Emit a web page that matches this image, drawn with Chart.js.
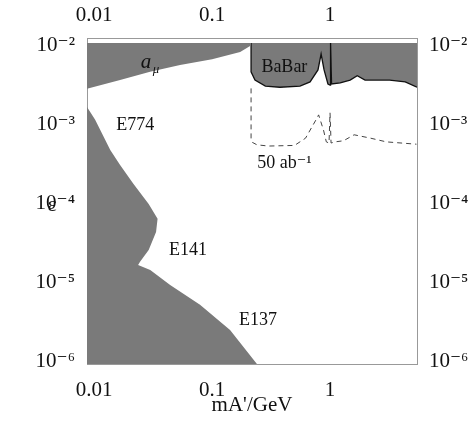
<!DOCTYPE html>
<html><head><meta charset="utf-8">
<script src="https://cdn.jsdelivr.net/npm/chart.js@4"></script>
<style>html,body{margin:0;background:#fff}#w{width:474px;height:437px}</style>
</head><body><div id="w"><canvas id="c"></canvas></div>
<script>
const xTicks=[0.01,0.1,1];
const yTicks=[1e-6,1e-5,1e-4,1e-3,1e-2];
const yTickLabels=['10⁻⁶','10⁻⁵','10⁻⁴','10⁻³','10⁻²'];
const amuTop=[[0.0087,1.09e-2],[0.214,1.09e-2]];
const amuLow=[[0.0087,2.86e-3],[0.0166,3.7e-3],[0.0298,4.7e-3],[0.0535,5.75e-3],[0.1,6.8e-3],[0.173,8.4e-3],[0.21,1.0e-2],[0.214,1.09e-2]];
const babarTop=[[0.214,1.09e-2],[5.46,1.09e-2]];
const babarLow=[[0.214,1.09e-2],[0.214,4.7e-3],[0.231,3.7e-3],[0.283,3.1e-3],[0.376,3.0e-3],[0.556,3.1e-3],[0.677,3.5e-3],[0.79,4.97e-3],[0.84,7.9e-3],[0.89,4.97e-3],[0.96,3.3e-3],[1.0,3.2e-3],[1.01,1.09e-2],[1.03,3.3e-3],[1.22,3.4e-3],[1.48,3.7e-3],[1.70,4.2e-3],[1.98,3.7e-3],[3.2,3.7e-3],[4.34,3.5e-3],[5.46,3.0e-3]];
const future=[[0.214,2.9e-3],[0.214,6.5e-4],[0.22,6.0e-4],[0.24,5.6e-4],[0.30,5.4e-4],[0.50,5.5e-4],[0.62,6.8e-4],[0.76,1.16e-3],[0.80,1.34e-3],[0.88,8.6e-4],[0.93,6.1e-4],[0.98,5.9e-4],[1.0,1.42e-3],[1.02,5.9e-4],[1.1,6.1e-4],[1.3,6.3e-4],[1.6,7.5e-4],[2.2,6.8e-4],[3.0,6.1e-4],[5.4,5.7e-4]];
const beamDump=[[0.0087,1.69e-3],[0.0102,1.16e-3],[0.0137,4.8e-4],[0.0166,3.1e-4],[0.0215,1.8e-4],[0.0290,1.0e-4],[0.0345,6.5e-5],[0.0335,4.4e-5],[0.029,2.6e-5],[0.0245,1.85e-5],[0.0236,1.69e-5],[0.0299,1.46e-5],[0.0441,9.4e-6],[0.079,5.3e-6],[0.142,2.54e-6],[0.240,9.4e-7]];
const labels=[['a','μ',0.0298,6.1e-3,true],['BaBar','',0.41,5.4e-3,false],['E774','',0.0223,1.0e-3,false],['E141','',0.0626,2.6e-5,false],['E137','',0.245,3.4e-6,false],['50 ab','⁻¹',0.41,3.3e-4,false]];
const pts=a=>a.map(p=>({x:p[0],y:p[1]}));
const G='#7a7a7a';
const base={showLine:true,pointRadius:0,tension:0};
const serif='"Liberation Serif","DejaVu Serif",serif';
const textPlugin={id:'t',afterDatasetsDraw(ch){const c=ch.ctx,xs=ch.scales.x,ys=ch.scales.y;c.save();c.fillStyle='#111';c.textAlign='center';c.textBaseline='middle';
labels.forEach(l=>{const px=xs.getPixelForValue(l[2]),py=ys.getPixelForValue(l[3]);
if(l[4]){c.font='italic 21px '+serif;c.fillText(l[0],px-4,py);c.font='italic 13px '+serif;c.fillText(l[1],px+6,py+7);}
else{c.font='18px '+serif;c.fillText(l[0]+l[1],px,py);}});
c.font='21px '+serif;c.fillText("mA'/GeV",(ch.chartArea.left+ch.chartArea.right)/2,405);
c.font='22px '+serif;c.fillText('ε',52,205);
c.restore();}};
const fitW=w=>function(s){s.width=w;};
const fitH=h=>function(s){s.height=h;};
const tf={color:'#111',font:{size:21,family:serif}};
new Chart(document.getElementById('c'),{type:'scatter',
data:{datasets:[
{...base,data:pts(amuTop),borderWidth:0,borderColor:G},
{...base,data:pts(amuLow),borderWidth:0,borderColor:G,backgroundColor:G,fill:'-1'},
{...base,data:pts(babarTop),borderWidth:0,borderColor:G},
{...base,data:pts(babarLow),borderWidth:1.3,borderColor:'#111',backgroundColor:G,fill:'-1'},
{...base,data:pts(future),borderWidth:1,borderColor:'#444',borderDash:[5,4],fill:false},
{...base,data:pts(beamDump),borderWidth:0,borderColor:G,backgroundColor:G,fill:'start'}
]},
options:{responsive:true,maintainAspectRatio:false,animation:false,
plugins:{legend:{display:false},tooltip:{enabled:false}},
layout:{padding:0},
scales:{
x:{type:'logarithmic',position:'bottom',min:0.0087,max:5.46,afterFit:fitH(73),
afterBuildTicks:s=>{s.ticks=xTicks.map(v=>({value:v}));},
ticks:{...tf,callback:v=>String(v),maxRotation:0,padding:6},
grid:{display:false},border:{color:'#999'}},
x2:{type:'logarithmic',position:'top',min:0.0087,max:5.46,afterFit:fitH(38),
afterBuildTicks:s=>{s.ticks=xTicks.map(v=>({value:v}));},
ticks:{...tf,callback:v=>String(v),maxRotation:0,padding:2},
grid:{display:false},border:{color:'#999'}},
y:{type:'logarithmic',position:'left',min:9.4e-7,max:1.26e-2,afterFit:fitW(87),
afterBuildTicks:s=>{s.ticks=yTicks.map(v=>({value:v}));},
ticks:{...tf,padding:4,callback:v=>yTickLabels[yTicks.findIndex(t=>Math.abs(t-v)/t<1e-6)]},
grid:{display:false},border:{color:'#999'}},
y2:{type:'logarithmic',position:'right',min:9.4e-7,max:1.26e-2,afterFit:fitW(57),
afterBuildTicks:s=>{s.ticks=yTicks.map(v=>({value:v}));},
ticks:{...tf,padding:4,callback:v=>yTickLabels[yTicks.findIndex(t=>Math.abs(t-v)/t<1e-6)]},
grid:{display:false},border:{color:'#999'}}
}},plugins:[textPlugin]});
</script></body></html>
